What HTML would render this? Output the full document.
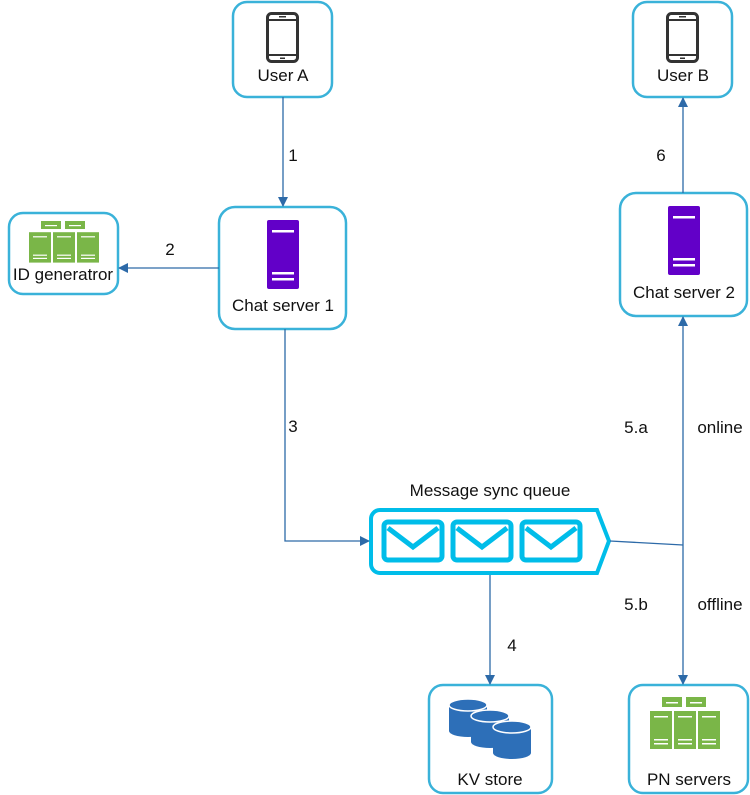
<!DOCTYPE html>
<html><head><style>body{margin:0;background:#fff}svg{display:block}text{font-family:"Liberation Sans",Arial,sans-serif;font-size:17px;fill:#111}</style></head><body>
<svg width="750" height="795" viewBox="0 0 750 795" xmlns="http://www.w3.org/2000/svg">
<defs>
<marker id="a" markerWidth="10" markerHeight="10" refX="9" refY="5" orient="auto" markerUnits="userSpaceOnUse"><path d="M0,0 L10,5 L0,10 z" fill="#2d6aa8"/></marker>
<g id="srv"><rect x="0" y="0" width="32" height="69" rx="2" fill="#6200c8"/><rect x="5" y="10" width="22" height="2.5" fill="#fff"/><rect x="5" y="52" width="22" height="2.5" fill="#fff"/><rect x="5" y="58" width="22" height="2.5" fill="#fff"/></g>
<g id="phone"><rect x="1.5" y="1.5" width="30" height="48" rx="4" fill="none" stroke="#333" stroke-width="3"/><line x1="2" y1="8" x2="31" y2="8" stroke="#333" stroke-width="2"/><line x1="2" y1="43" x2="31" y2="43" stroke="#333" stroke-width="2"/><rect x="13" y="4" width="7" height="1.5" fill="#333"/><rect x="14" y="45.5" width="5" height="1.5" fill="#333"/></g>
<g id="green" fill="#7ab648"><rect x="12" y="0" width="20" height="10"/><rect x="36" y="0" width="20" height="10"/><rect x="0" y="14" width="22" height="38"/><rect x="24" y="14" width="22" height="38"/><rect x="48" y="14" width="22" height="38"/><g fill="#fff"><rect x="16" y="5" width="12" height="1.5"/><rect x="40" y="5" width="12" height="1.5"/><rect x="4" y="19" width="14" height="1.5"/><rect x="28" y="19" width="14" height="1.5"/><rect x="52" y="19" width="14" height="1.5"/><rect x="4" y="42" width="14" height="1.5"/><rect x="28" y="42" width="14" height="1.5"/><rect x="52" y="42" width="14" height="1.5"/><rect x="4" y="46" width="14" height="1.5"/><rect x="28" y="46" width="14" height="1.5"/><rect x="52" y="46" width="14" height="1.5"/></g></g>
<g id="cyl"><path d="M0,6 v26 a19,6 0 0 0 38,0 v-26" fill="#2d6fb8"/><ellipse cx="19" cy="6" rx="19" ry="6" fill="#2d6fb8" stroke="#fff" stroke-width="1.5"/></g>
<g id="env"><rect x="2" y="2" width="58" height="38" rx="4" fill="none" stroke="#00bde9" stroke-width="5"/><path d="M6,8 L31,27 L56,8" fill="none" stroke="#00bde9" stroke-width="5"/></g>
</defs>
<g fill="#fff" stroke="#3ab2d9" stroke-width="2.5">
<rect x="233" y="2" width="99" height="95" rx="14"/>
<rect x="633" y="2" width="99" height="95" rx="14"/>
<rect x="219" y="207" width="127" height="122" rx="16"/>
<rect x="620" y="193" width="127" height="123" rx="16"/>
<rect x="9" y="213" width="109" height="81" rx="14"/>
<rect x="429" y="685" width="123" height="108" rx="14"/>
<rect x="629" y="685" width="119" height="108" rx="14"/>
</g>
<use href="#phone" x="266" y="12"/>
<use href="#phone" x="666" y="12"/>
<use href="#srv" x="267" y="220"/>
<use href="#srv" x="668" y="206"/>
<g transform="translate(29,221) scale(1,0.8)"><use href="#green"/></g>
<use href="#green" x="650" y="697"/>
<use href="#cyl" x="449" y="699"/>
<use href="#cyl" x="471" y="710"/>
<use href="#cyl" x="493" y="721"/>
<path d="M380,510 H597 L609,541 L597,573 H380 a9,9 0 0 1 -9,-9 V519 a9,9 0 0 1 9,-9 z" fill="none" stroke="#00bde9" stroke-width="4"/>
<use href="#env" x="382" y="520"/>
<use href="#env" x="451" y="520"/>
<use href="#env" x="520" y="520"/>
<g stroke="#2d6aa8" stroke-width="1.3" fill="none">
<line x1="283" y1="97" x2="283" y2="206" marker-end="url(#a)"/>
<line x1="219" y1="268" x2="119" y2="268" marker-end="url(#a)"/>
<polyline points="285,329 285,541 369,541" marker-end="url(#a)"/>
<line x1="490" y1="575" x2="490" y2="684" marker-end="url(#a)"/>
<polyline points="610,541 683,545"/>
<line x1="683" y1="545" x2="683" y2="317" marker-end="url(#a)"/>
<line x1="683" y1="545" x2="683" y2="684" marker-end="url(#a)"/>
<line x1="683" y1="193" x2="683" y2="98" marker-end="url(#a)"/>
</g>
<g text-anchor="middle">
<text x="283" y="81">User A</text>
<text x="683" y="81">User B</text>
<text x="283" y="311">Chat server 1</text>
<text x="684" y="298">Chat server 2</text>
<text x="63" y="280">ID generatror</text>
<text x="490" y="785">KV store</text>
<text x="689" y="785">PN servers</text>
<text x="490" y="496">Message sync queue</text>
<text x="293" y="161">1</text>
<text x="170" y="255">2</text>
<text x="293" y="432">3</text>
<text x="512" y="651">4</text>
<text x="661" y="161">6</text>
<text x="636" y="433">5.a</text>
<text x="720" y="433">online</text>
<text x="636" y="610">5.b</text>
<text x="720" y="610">offline</text>
</g>
</svg>
</body></html>
